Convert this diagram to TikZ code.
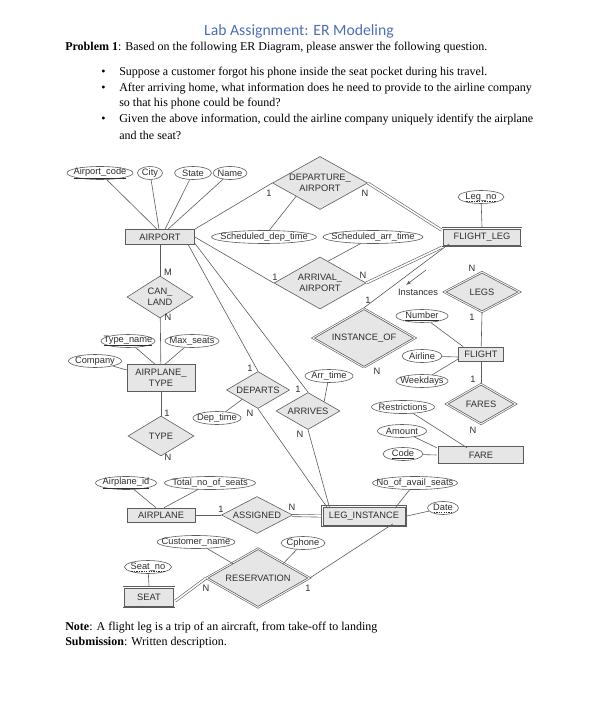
\documentclass[tikz,border=0pt]{standalone}
\usepackage{fontspec}
\usetikzlibrary{shapes.geometric}
\setmainfont{Liberation Serif}
\newfontfamily\erfont{Liberation Sans}
\newfontfamily\titlefont{Carlito}
\definecolor{erline}{HTML}{5C5C5C}
\definecolor{erfill}{HTML}{E6E6E6}
\definecolor{ertext}{HTML}{2E2E2E}
\definecolor{titleblue}{HTML}{4E6DB5}
\newcommand{\pkey}[1]{\setbox0=\hbox{#1}\leavevmode\rlap{\raisebox{-2.2pt}{\hbox to \wd0{\xleaders\hbox to 2.4pt{\hss\rule{1.4pt}{0.4pt}\hss}\hfill}}}\box0}

\begin{document}
\begin{tikzpicture}
  [x=1pt,y=-1pt,line width=0.6pt,
  er/.style={font=\erfont\fontsize{9.3}{10.5}\selectfont,text=ertext},
  twice/.style={preaction={draw=erline,line width=3.8pt},preaction={draw=white,line width=2.6pt}},
  entity/.style={er,rectangle,draw=erline,fill=erfill,inner sep=0pt,align=center},
  weak/.style={entity,twice},
  rel/.style={er,diamond,draw=erline,fill=erfill,inner sep=-3pt,shape aspect=1.8,align=center},
  idrel/.style={rel,twice},
  attr/.style={er,ellipse,draw=erline,fill=white,inner xsep=-40pt,inner ysep=-1pt,minimum height=13,minimum width=#1},
  card/.style={er,inner sep=0pt},
  link/.style={draw=erline},
  total/.style={draw=erline,double,double distance=1.6pt},
  body/.style={font=\fontsize{12}{14}\selectfont,inner sep=0pt,anchor=west}]
  \useasboundingbox (0,0) rectangle (606,708);

  \node[font=\titlefont\fontsize{15.7}{18}\selectfont,text=titleblue,inner sep=0pt] (title) at (299,31) {Lab Assignment: ER Modeling};
  \node[body] (prob) at (65,48) {\textbf{Problem 1}: Based on the following ER Diagram, please answer the following question.};
  \node[body] (b1) at (101,73) {\textbullet};
  \node[body] (b2) at (101,89) {\textbullet};
  \node[body] (b3) at (101,120) {\textbullet};
  \node[body] (q1) at (119,73) {Suppose a customer forgot his phone inside the seat pocket during his travel.};
  \node[body] (q2) at (119,89) {After arriving home, what information does he need to provide to the airline company};
  \node[body] (q3) at (119,104) {so that his phone could be found?};
  \node[body] (q4) at (119,120) {Given the above information, could the airline company uniquely identify the airplane};
  \node[body] (q5) at (119,135) {and the seat?};
  \node[body] (note) at (65,628) {\textbf{Note}: A flight leg is a trip of an aircraft, from take-off to landing};
  \node[body] (subm) at (65,643) {\textbf{Submission}: Written description.};

  \node[entity,minimum width=69,minimum height=15] (airport) at (160,237) {AIRPORT};
  \node[weak,minimum width=77,minimum height=16] (flightleg) at (482,237) {FLIGHT\_LEG};
  \node[entity,minimum width=68,minimum height=27] (airtype) at (161,378) {AIRPLANE\_\\TYPE};
  \node[entity,minimum width=68,minimum height=14] (airplane) at (161,515) {AIRPLANE};
  \node[entity,minimum width=45,minimum height=14] (flight) at (481,354) {FLIGHT};
  \node[weak,minimum width=85,minimum height=17] (fare) at (481,455) {FARE};
  \node[weak,minimum width=82,minimum height=18] (leginst) at (364,516) {LEG\_INSTANCE};
  \node[weak,minimum width=49,minimum height=18] (seat) at (149,597) {SEAT};

  \node[rel,minimum width=95,minimum height=53] (depair) at (320,183) {DEPARTURE\_\\AIRPORT};
  \node[rel,minimum width=92,minimum height=52] (arrair) at (320,283) {ARRIVAL\_\\AIRPORT};
  \node[rel,minimum width=66,minimum height=42] (canland) at (160,297) {CAN\_\\LAND};
  \node[rel,minimum width=66,minimum height=40] (typerel) at (161,436) {TYPE};
  \node[rel,minimum width=63,minimum height=37] (departs) at (258,390) {DEPARTS};
  \node[rel,minimum width=64,minimum height=37] (arrives) at (308,411) {ARRIVES};
  \node[rel,minimum width=71,minimum height=37] (assigned) at (257,515) {ASSIGNED};
  \node[idrel,minimum width=99,minimum height=57] (instof) at (364,338) {INSTANCE\_OF};
  \node[idrel,minimum width=72,minimum height=38] (legs) at (482,292) {LEGS};
  \node[idrel,minimum width=66,minimum height=38] (fares) at (481,404) {FARES};
  \node[idrel,minimum width=100,minimum height=57] (reserv) at (258,578) {RESERVATION};

  \node[attr=66] (acode) at (100,173) {\underline{Airport\_code}};
  \node[attr=25] (city) at (150,173) {City};
  \node[attr=37] (state) at (193,173) {State};
  \node[attr=34] (aname) at (230,173) {Name};
  \node[attr=105] (schdep) at (264,237) {Scheduled\_dep\_time};
  \node[attr=100] (scharr) at (373,237) {Scheduled\_arr\_time};
  \node[attr=46] (legno) at (481,197) {\pkey{Leg\_no}};
  \node[attr=54] (typename) at (128,341) {\underline{Type\_name}};
  \node[attr=54] (maxseats) at (192,341) {Max\_seats};
  \node[attr=53] (company) at (95,361) {Company};
  \node[attr=48] (deptime) at (217,418) {Dep\_time};
  \node[attr=48] (arrtime) at (329,376) {Arr\_time};
  \node[attr=52] (number) at (422,316) {\underline{Number}};
  \node[attr=40] (airline) at (422,356) {Airline};
  \node[attr=52] (weekdays) at (422,381) {Weekdays};
  \node[attr=63] (restr) at (403,407) {Restrictions};
  \node[attr=49] (amount) at (402,431) {Amount};
  \node[attr=40] (code) at (403,454) {\underline{Code}};
  \node[attr=85] (navail) at (415,483) {No\_of\_avail\_seats};
  \node[attr=31] (date) at (443,508) {\pkey{Date}};
  \node[attr=61] (airid) at (126,483) {\underline{Airplane\_id}};
  \node[attr=91] (totseats) at (210,483) {Total\_no\_of\_seats};
  \node[attr=78] (custname) at (196,542) {Customer\_name};
  \node[attr=44] (cphone) at (303,543) {Cphone};
  \node[attr=47] (seatno) at (148,567) {\pkey{Seat\_no}};

  \draw[link] (acode) -- ([xshift=-3]airport.north);
  \draw[link] (city) -- ([xshift=-1]airport.north);
  \draw[link] (state) -- ([xshift=5]airport.north);
  \draw[link] (aname) -- ([xshift=8]airport.north);
  \draw[link] (airport.north east) -- (depair.west);
  \draw[link] (airport.east) -- (arrair.west);
  \draw[link] ([xshift=-6.5]airport.south east) -- (departs.north);
  \draw[link] ([yshift=1.5]airport.south east) -- (arrives.north);
  \draw[link] (schdep) -- (depair.south west);
  \draw[link] (scharr) -- (arrair.70);
  \draw[total] (depair.east) -- ([shift={(-1.5,1.5)}]flightleg.north west);
  \draw[total] (arrair.east) -- ([shift={(-1.5,2)}]flightleg.south west);
  \draw[link] (legno) -- ([yshift=1.5]flightleg.north);
  \draw[total] ([yshift=-1.5]flightleg.south) -- ([yshift=1.5]legs.north);
  \draw[link] ([shift={(6,-1.5)}]flightleg.south west) -- ([yshift=1.5]instof.north);
  \coordinate (insA) at (426,270);
  \coordinate (insB) at (406,285);
  \draw[link,-latex] (insA) -- (insB);
  \node[er,inner sep=0pt] (inslbl) at (418,292) {Instances};
  \draw[link] ([yshift=-1.5]legs.south) -- (flight);
  \draw[link] (number) -- ([xshift=5]flight.north west);
  \draw[link] (airline) -- ([yshift=-3]flight.west);
  \draw[link] (weekdays) -- ([yshift=-5]flight.west);
  \draw[link] (flight) -- ([yshift=1.5]fares.north);
  \draw[total] ([yshift=-1.5]fares.south) -- ([yshift=1.5]fare.north);
  \draw[link] (restr) -- ([shift={(-14,1.5)}]fare.north);
  \draw[link] (amount) -- ([shift={(-1.5,1.5)}]fare.north west);
  \draw[link] (code) -- ([xshift=-1.5]fare.west);
  \draw[link] (airport) -- (canland);
  \draw[link] (canland) -- (airtype);
  \draw[link] (typename) -- ([xshift=-6]airtype.north);
  \draw[link] (maxseats) -- ([xshift=4]airtype.north);
  \draw[link] (company) -- ([yshift=8]airtype.west);
  \draw[link] (airtype) -- (typerel);
  \draw[total] (typerel) -- (airplane);
  \draw[link] (airid) -- ([xshift=-5]airplane.north);
  \draw[link] (totseats) -- ([xshift=3]airplane.north);
  \draw[link] (airplane) -- (assigned);
  \draw[total] (assigned) -- ([xshift=-1.5]leginst.west);
  \draw[total] ([yshift=-1.5]instof.south) -- ([yshift=1.5]leginst.north);
  \draw[link] (departs.south) -- ([shift={(5,1.5)}]leginst.north west);
  \draw[link] (arrives.south) -- ([shift={(7,1.5)}]leginst.north west);
  \draw[link] (deptime) -- (departs.south west);
  \draw[link] (arrtime) -- (arrives.north east);
  \draw[link] (navail) -- ([shift={(31,1.5)}]leginst.north);
  \draw[link] (date) -- ([xshift=1.5]leginst.east);
  \draw[link] (seatno) -- ([yshift=1.5]seat.north);
  \draw[total] ([shift={(1.5,4)}]seat.east) -- ([xshift=-1.5]reserv.west);
  \draw[link] (custname) -- (reserv.north west);
  \draw[link] (cphone) -- (reserv.north east);
  \draw[link] ([xshift=1.5]reserv.east) -- ([shift={(29,-1.5)}]leginst.south);

  \node[card] (dp1) at (269,193) {1};
  \node[card] (dpN) at (365,193) {N};
  \node[card] (ap1) at (275,277) {1};
  \node[card] (apN) at (363,275) {N};
  \node[card] (ins1) at (368,300) {1};
  \node[card] (lgN) at (472,268) {N};
  \node[card] (fl1) at (472,317) {1};
  \node[card] (fl2) at (473,379) {1};
  \node[card] (frN) at (473,430) {N};
  \node[card] (clM) at (168,272) {M};
  \node[card] (clN) at (168,317) {N};
  \node[card] (ty1) at (167,413) {1};
  \node[card] (tyN) at (168,457) {N};
  \node[card] (de1) at (250,368) {1};
  \node[card] (deN) at (250,413) {N};
  \node[card] (ar1) at (298,389) {1};
  \node[card] (arN) at (300,434) {N};
  \node[card] (ioN) at (377,371) {N};
  \node[card] (as1) at (221,509) {1};
  \node[card] (asN) at (292,507) {N};
  \node[card] (rsN) at (206,588) {N};
  \node[card] (rs1) at (308,588) {1};
\end{tikzpicture}
\end{document}
